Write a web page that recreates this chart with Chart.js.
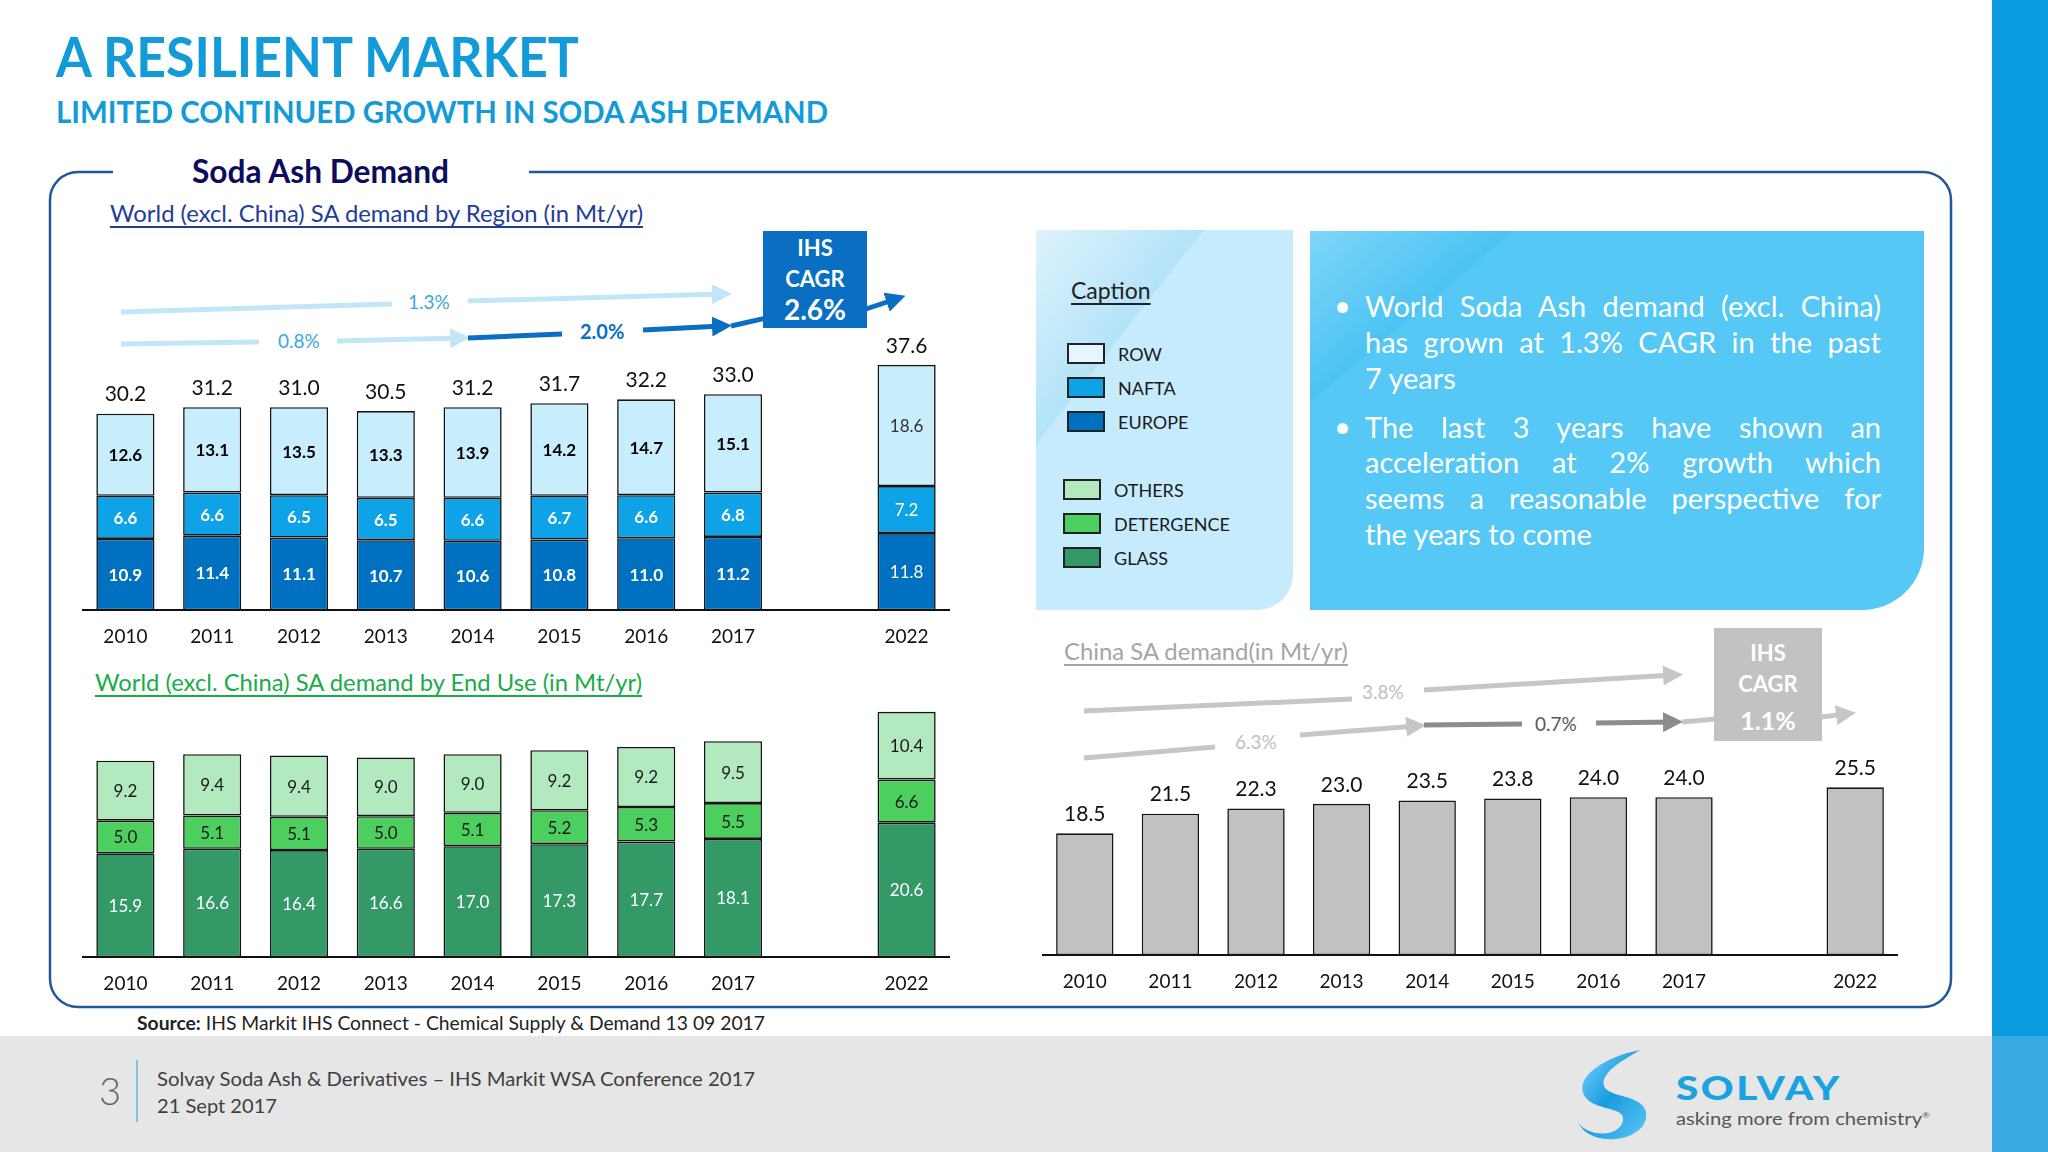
<!DOCTYPE html>
<html>
<head>
<meta charset="utf-8">
<script src="https://cdn.jsdelivr.net/npm/chart.js@4.4.1/dist/chart.umd.min.js"></script>
<style>
  body { margin: 0; width: 2048px; height: 1152px; overflow: hidden; background: #fff; font-family: Lato, 'Open Sans', sans-serif; }
  .a { position: absolute; white-space: nowrap; line-height: 1; transform-origin: left center; }
  canvas { position: absolute; }
  .u { text-decoration: underline; text-decoration-thickness: 2px; text-underline-offset: 4px; }
  .sq { position: absolute; width: 38px; height: 21px; border: 2px solid #222; box-sizing: border-box; }
  .bl { position: absolute; color: #fff; font-size: 29px; line-height: 1; white-space: nowrap; }
</style>
</head>
<body>
<div id="page" style="position:relative;width:2048px;height:1152px;">

  <!-- right strip + footer -->
  <div style="position:absolute;left:1992px;top:0;width:56px;height:1036px;background:#0a9ade"></div>
  <div style="position:absolute;left:1992px;top:1036px;width:56px;height:116px;background:#3aa9e1"></div>
  <div style="position:absolute;left:0;top:1036px;width:1992px;height:116px;background:#e6e6e6"></div>

  <!-- headings -->
  <div class="a" data-w="523" style="left:56px;top:28px;font-size:56px;font-weight:700;color:#129bd8">A RESILIENT MARKET</div>
  <div class="a" data-w="772" style="left:56px;top:96px;font-size:30px;font-weight:700;color:#129bd8">LIMITED CONTINUED GROWTH IN SODA ASH DEMAND</div>

  <!-- panels -->
  <div style="position:absolute;left:1036px;top:230px;width:257px;height:380px;border-bottom-right-radius:36px;
       background:linear-gradient(128deg,#ddf3fd 0%,#b4e3f8 30%,#c6ebfc 30.5%,#c6ebfc 100%)"></div>
  <div style="position:absolute;left:1310px;top:231px;width:614px;height:379px;border-bottom-right-radius:62px;
       background:linear-gradient(140deg,#7fd6f8 0%,#4cc3f3 19%,#56c8f5 19.3%,#56c8f5 100%)"></div>

  <div class="a u" style="left:1071px;top:279px;font-size:23px;color:#222">Caption</div>
  <div class="sq" style="left:1067px;top:343px;background:#e6f6fd"></div>
  <div class="sq" style="left:1067px;top:377px;background:#0ea2e6"></div>
  <div class="sq" style="left:1067px;top:411px;background:#0070c0"></div>
  <div class="a" style="left:1118px;top:345px;font-size:18px;color:#1a1a1a">ROW</div>
  <div class="a" style="left:1118px;top:379px;font-size:18px;color:#1a1a1a">NAFTA</div>
  <div class="a" style="left:1118px;top:413px;font-size:18px;color:#1a1a1a">EUROPE</div>
  <div class="sq" style="left:1063px;top:479px;background:#b3e9bf"></div>
  <div class="sq" style="left:1063px;top:513px;background:#4dcf5f"></div>
  <div class="sq" style="left:1063px;top:547px;background:#339966"></div>
  <div class="a" style="left:1114px;top:481px;font-size:18px;color:#1a1a1a">OTHERS</div>
  <div class="a" style="left:1114px;top:515px;font-size:18px;color:#1a1a1a">DETERGENCE</div>
  <div class="a" style="left:1114px;top:549px;font-size:18px;color:#1a1a1a">GLASS</div>

  <div class="bl" style="left:1334px;top:290px">•</div>
  <div class="bl" data-w="516" data-j="1" style="left:1365px;top:291px">World Soda Ash demand (excl. China)</div>
  <div class="bl" data-w="516" data-j="1" style="left:1365px;top:327px">has grown at  1.3% CAGR in the past</div>
  <div class="bl" style="left:1365px;top:363px">7 years</div>
  <div class="bl" style="left:1334px;top:411px">•</div>
  <div class="bl" data-w="516" data-j="1" style="left:1365px;top:412px">The last 3 years have shown an</div>
  <div class="bl" data-w="516" data-j="1" style="left:1365px;top:447px">acceleration at 2% growth which</div>
  <div class="bl" data-w="516" data-j="1" style="left:1365px;top:483px">seems a reasonable perspective for</div>
  <div class="bl" style="left:1365px;top:519px">the years to come</div>

  <!-- frame, arrows, boxes -->
  <svg width="2048" height="1152" style="position:absolute;left:0;top:0">
    <defs>
      <marker id="hLB" markerWidth="4" markerHeight="4" refX="2" refY="2" orient="auto" markerUnits="strokeWidth"><path d="M0,0 L4,2 L0,4 z" fill="#c2e5f8"/></marker>
      <marker id="hDB" markerWidth="4" markerHeight="4" refX="2" refY="2" orient="auto" markerUnits="strokeWidth"><path d="M0,0 L4,2 L0,4 z" fill="#0a6fc2"/></marker>
      <marker id="hLG" markerWidth="4" markerHeight="4" refX="2" refY="2" orient="auto" markerUnits="strokeWidth"><path d="M0,0 L4,2 L0,4 z" fill="#c6c6c6"/></marker>
      <marker id="hDG" markerWidth="4" markerHeight="4" refX="2" refY="2" orient="auto" markerUnits="strokeWidth"><path d="M0,0 L4,2 L0,4 z" fill="#8c8c8c"/></marker>
      <linearGradient id="sg" x1="0" y1="0" x2="1" y2="1">
        <stop offset="0" stop-color="#7fd8ff"/><stop offset="0.5" stop-color="#1a9be0"/><stop offset="1" stop-color="#5cc6f5"/>
      </linearGradient>
    </defs>
    <path d="M113,172 L78,172 A28,28 0 0 0 50,200 L50,979 A28,28 0 0 0 78,1007 L1923,1007 A28,28 0 0 0 1951,979 L1951,200 A28,28 0 0 0 1923,172 L529,172"
          fill="none" stroke="#1f5a96" stroke-width="2.5"/>

    <g stroke-width="5" fill="none" stroke-linecap="butt">
      <line x1="121" y1="312" x2="392" y2="304" stroke="#c2e5f8"/>
      <line x1="468" y1="301" x2="722" y2="294" stroke="#c2e5f8" marker-end="url(#hLB)"/>
      <line x1="121" y1="344" x2="259" y2="342" stroke="#c2e5f8"/>
      <line x1="337" y1="341" x2="460" y2="338" stroke="#c2e5f8" marker-end="url(#hLB)"/>
      <line x1="468" y1="338" x2="562" y2="334" stroke="#0a6fc2"/>
      <line x1="643" y1="330" x2="722" y2="326" stroke="#0a6fc2" marker-end="url(#hDB)"/>
      <line x1="731" y1="326" x2="766" y2="318" stroke="#0a6fc2"/>
      <line x1="866" y1="309" x2="896" y2="299" stroke="#0a6fc2" marker-end="url(#hDB)"/>

      <line x1="1084" y1="711" x2="1352" y2="699" stroke="#c6c6c6"/>
      <line x1="1424" y1="690" x2="1673" y2="675" stroke="#c6c6c6" marker-end="url(#hLG)"/>
      <line x1="1084" y1="758" x2="1215" y2="747" stroke="#c6c6c6"/>
      <line x1="1300" y1="735" x2="1416" y2="726" stroke="#c6c6c6" marker-end="url(#hLG)"/>
      <line x1="1424" y1="725" x2="1522" y2="724" stroke="#8c8c8c"/>
      <line x1="1596" y1="723" x2="1673" y2="722" stroke="#8c8c8c" marker-end="url(#hDG)"/>
      <line x1="1682" y1="722" x2="1716" y2="719" stroke="#c6c6c6"/>
      <line x1="1821" y1="717" x2="1846" y2="714" stroke="#c6c6c6" marker-end="url(#hLG)"/>
    </g>
    <rect x="763" y="231" width="104" height="97" fill="#0a6fc2"/>
    <rect x="1714" y="628" width="108" height="113" fill="#c2c2c2"/>

    <!-- logo swoosh -->
    <path d="M1640,1050 C1600,1058 1572,1080 1586,1098 C1598,1112 1630,1106 1622,1124 C1614,1138 1586,1136 1578,1122
             C1590,1150 1650,1142 1646,1112 C1642,1094 1608,1098 1604,1086 C1600,1072 1624,1060 1640,1050 z" fill="url(#sg)"/>
  </svg>

  <!-- arrow labels and box texts -->
  <div class="a" style="left:408px;top:292px;font-size:19px;color:#3aa7e0">1.3%</div>
  <div class="a" style="left:278px;top:331px;font-size:19px;color:#3aa7e0">0.8%</div>
  <div class="a" style="left:580px;top:321px;font-size:20px;font-weight:700;color:#0a6fc2">2.0%</div>
  <div class="a" style="left:763px;top:237px;width:104px;text-align:center;font-size:22px;font-weight:700;color:#fff">IHS</div>
  <div class="a" style="left:763px;top:268px;width:104px;text-align:center;font-size:22px;font-weight:700;color:#fff">CAGR</div>
  <div class="a" style="left:763px;top:295px;width:104px;text-align:center;font-size:28px;font-weight:700;color:#fff">2.6%</div>

  <div class="a" style="left:1362px;top:682px;font-size:19px;color:#c0c0c0">3.8%</div>
  <div class="a" style="left:1235px;top:732px;font-size:19px;color:#c0c0c0">6.3%</div>
  <div class="a" style="left:1535px;top:714px;font-size:19px;color:#595959">0.7%</div>
  <div class="a" style="left:1714px;top:642px;width:108px;text-align:center;font-size:22px;font-weight:700;color:#fff">IHS</div>
  <div class="a" style="left:1714px;top:673px;width:108px;text-align:center;font-size:22px;font-weight:700;color:#fff">CAGR</div>
  <div class="a" style="left:1714px;top:708px;width:108px;text-align:center;font-size:25px;font-weight:700;color:#fff">1.1%</div>

  <!-- frame title and chart titles -->
  <div class="a" data-w="257" style="left:192px;top:155px;font-size:32px;font-weight:700;color:#0c0c5c">Soda Ash Demand</div>
  <div class="a u" data-w="533" style="left:110px;top:202px;font-size:23px;color:#1f3e97">World (excl. China) SA demand by Region (in Mt/yr)</div>
  <div class="a u" data-w="547" style="left:95px;top:671px;font-size:23px;color:#1aab4b">World (excl. China) SA demand by End Use (in Mt/yr)</div>
  <div class="a u" data-w="284" style="left:1064px;top:640px;font-size:23px;color:#a5a5a5">China SA demand(in Mt/yr)</div>

  <canvas id="regionChart" width="868" height="340" style="left:82px;top:310px"></canvas>
  <canvas id="endUseChart" width="868" height="340" style="left:82px;top:657px"></canvas>
  <canvas id="chinaChart" width="856" height="303" style="left:1042px;top:692px"></canvas>

  <!-- footer -->
  <div class="a" data-w="628" style="left:137px;top:1013px;font-size:19px;color:#222"><b>Source:</b> IHS Markit IHS Connect - Chemical Supply &amp; Demand 13 09 2017</div>
  <div class="a" style="left:99px;top:1071px;font-size:38px;color:#666;font-weight:300">3</div>
  <div style="position:absolute;left:136px;top:1060px;width:1.5px;height:62px;background:#7cc6ec"></div>
  <div class="a" data-w="598" style="left:157px;top:1068px;font-size:20px;color:#404040">Solvay Soda Ash &amp; Derivatives – IHS Markit WSA Conference 2017</div>
  <div class="a" data-w="120" style="left:157px;top:1095px;font-size:20px;color:#404040">21 Sept 2017</div>
  <div class="a" data-w="166" style="left:1676px;top:1072px;font-size:32px;font-weight:900;color:#1aa3e0;letter-spacing:2px">SOLVAY</div>
  <div class="a" data-w="254" style="left:1676px;top:1110px;font-size:17px;color:#555">asking more from chemistry<sup style="font-size:8px">®</sup></div>
</div>

<script>
// categories (blank slot between 2017 and 2022)
const years = ['2010', '2011', '2012', '2013', '2014', '2015', '2016', '2017', '', '2022'];

// World (excl. China) by region, Mt/yr
const europe = [10.9, 11.4, 11.1, 10.7, 10.6, 10.8, 11.0, 11.2, null, 11.8];
const nafta = [6.6, 6.6, 6.5, 6.5, 6.6, 6.7, 6.6, 6.8, null, 7.2];
const row = [12.6, 13.1, 13.5, 13.3, 13.9, 14.2, 14.7, 15.1, null, 18.6];
const regionTotals = [30.2, 31.2, 31.0, 30.5, 31.2, 31.7, 32.2, 33.0, null, 37.6];

// World (excl. China) by end use, Mt/yr
const glass = [15.9, 16.6, 16.4, 16.6, 17.0, 17.3, 17.7, 18.1, null, 20.6];
const detergence = [5.0, 5.1, 5.1, 5.0, 5.1, 5.2, 5.3, 5.5, null, 6.6];
const others = [9.2, 9.4, 9.4, 9.0, 9.0, 9.2, 9.2, 9.5, null, 10.4];

// China, Mt/yr
const china = [18.5, 21.5, 22.3, 23.0, 23.5, 23.8, 24.0, 24.0, null, 25.5];

const FONT = 'Lato, "Open Sans", sans-serif';
const isForecast = (i) => years[i] === '2022';

// value written in the middle of each stacked segment
const segmentLabels = {
  id: 'segmentLabels',
  afterDatasetsDraw(chart) {
    const ctx = chart.ctx;
    chart.data.datasets.forEach((ds, di) => {
      if (!ds.labelColor) return;
      chart.getDatasetMeta(di).data.forEach((bar, i) => {
        const v = ds.data[i];
        if (v == null) return;
        const p = bar.getProps(['x', 'y', 'base'], true);
        ctx.save();
        ctx.font = `${ds.labelBold && !isForecast(i) ? 'bold ' : ''}17px ${FONT}`;
        ctx.fillStyle = isForecast(i) && ds.labelColor22 ? ds.labelColor22 : ds.labelColor;
        ctx.textAlign = 'center';
        ctx.textBaseline = 'middle';
        ctx.fillText(v.toFixed(1), p.x, (p.y + p.base) / 2 + 1);
        ctx.restore();
      });
    });
  },
};

// totals above the stack
const totalsPlugin = {
  id: 'totals',
  afterDatasetsDraw(chart, args, opts) {
    if (!opts.values) return;
    const ctx = chart.ctx;
    const top = chart.getDatasetMeta(chart.data.datasets.length - 1).data;
    ctx.save();
    ctx.font = `21px ${FONT}`;
    ctx.fillStyle = '#111';
    ctx.textAlign = 'center';
    ctx.textBaseline = 'middle';
    opts.values.forEach((v, i) => {
      if (v == null) return;
      ctx.fillText(v.toFixed(1), top[i].x, top[i].y - 19);
    });
    ctx.restore();
  },
};

function bar(label, data, color, extra) {
  return Object.assign({
    label, data, backgroundColor: color,
    borderColor: '#151515', borderWidth: 1.6, borderSkipped: false,
    categoryPercentage: 1, barPercentage: 0.67,
  }, extra);
}

function makeChart(id, datasets, yMax, totals) {
  return new Chart(document.getElementById(id), {
    type: 'bar',
    data: { labels: years, datasets },
    options: {
      responsive: false,
      animation: false,
      layout: { padding: 0 },
      plugins: { legend: { display: false }, tooltip: { enabled: false }, totals: { values: totals } },
      scales: {
        x: {
          stacked: true,
          grid: { display: false, drawTicks: false },
          border: { display: true, color: '#111', width: 2 },
          ticks: { color: '#111', font: { size: 19, family: FONT }, padding: 15 },
          afterFit: (s) => { s.height = 40; },
        },
        y: { stacked: true, display: false, min: 0, max: yMax },
      },
    },
    plugins: [segmentLabels, totalsPlugin],
  });
}

makeChart('regionChart', [
  bar('EUROPE', europe, '#0070c0', { labelColor: '#fff', labelBold: true }),
  bar('NAFTA', nafta, '#0ea2e6', { labelColor: '#fff', labelBold: true }),
  bar('ROW', row, '#c8edfc', { labelColor: '#000', labelColor22: '#333', labelBold: true }),
], 46, regionTotals);

makeChart('endUseChart', [
  bar('GLASS', glass, '#339966', { labelColor: '#fff' }),
  bar('DETERGENCE', detergence, '#4dcf5f', { labelColor: '#1a1a1a' }),
  bar('OTHERS', others, '#b3e9bf', { labelColor: '#1a1a1a' }),
], 46, null);

makeChart('chinaChart', [
  bar('China', china, '#c1c0c3'),
], 40, china);

// squeeze / justify text to the widths of the slide
document.querySelectorAll('[data-w]').forEach((el) => {
  const target = +el.dataset.w;
  el.style.display = 'inline-block';
  const natural = el.getBoundingClientRect().width;
  if (natural > target) {
    el.style.transform = `scaleX(${target / natural})`;
  } else if (el.dataset.j) {
    el.style.width = target + 'px';
    el.style.whiteSpace = 'normal';
    el.style.textAlign = 'justify';
    el.style.textAlignLast = 'justify';
  } else {
    el.style.transform = `scaleX(${target / natural})`;
  }
});
</script>
</body>
</html>
